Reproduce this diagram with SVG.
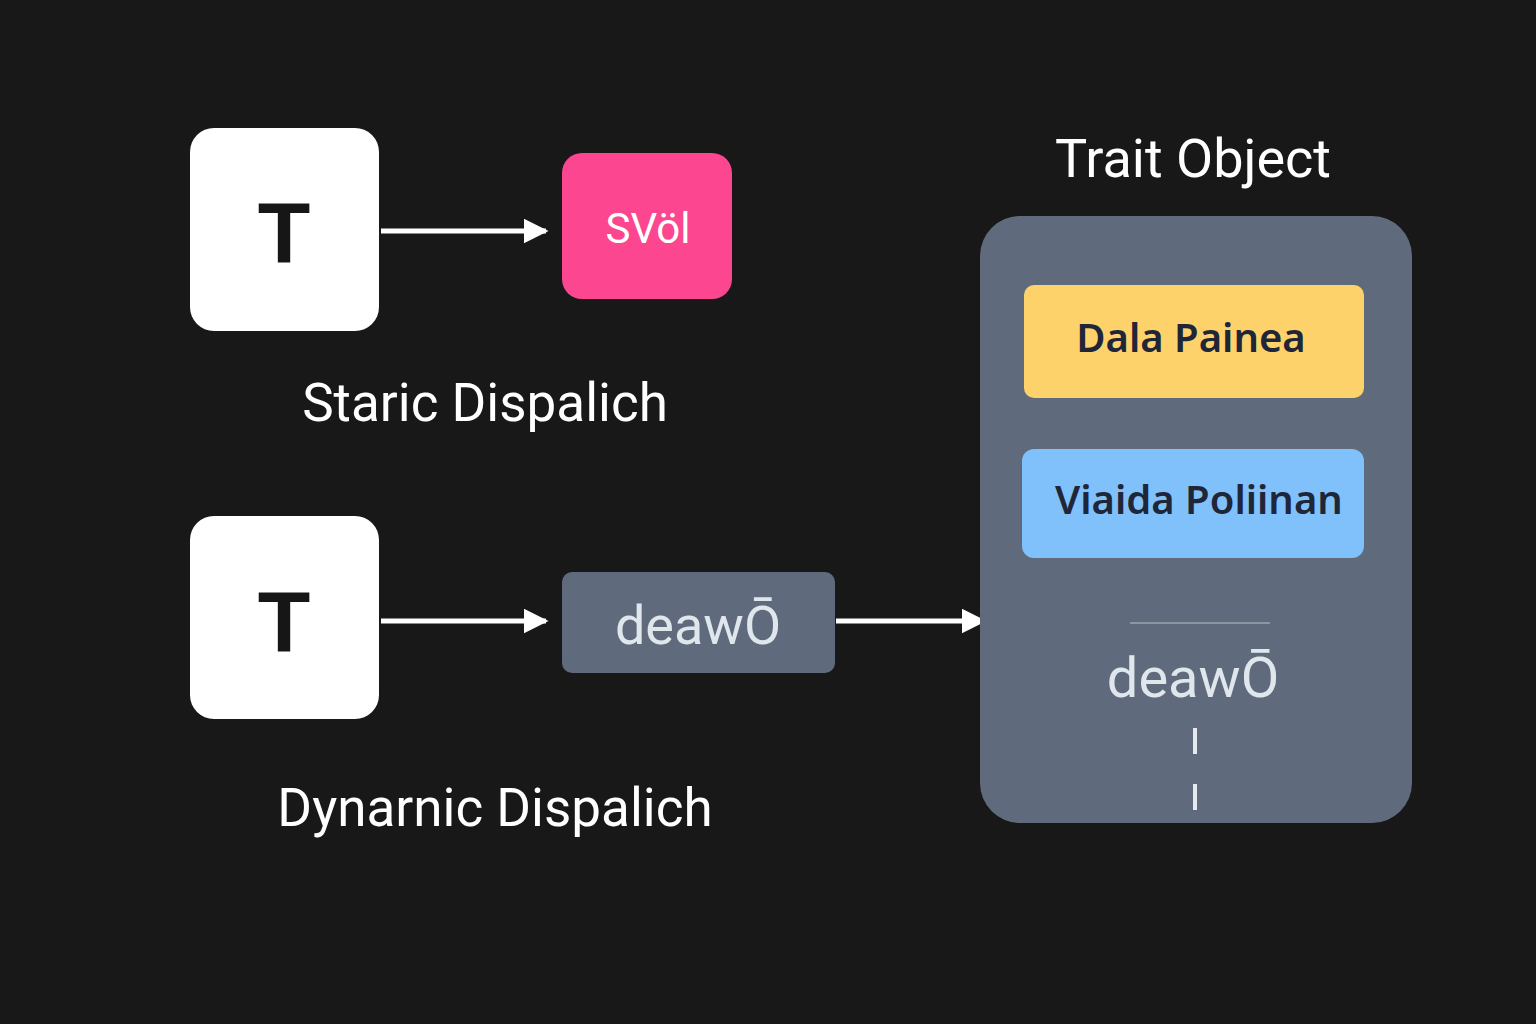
<svg xmlns="http://www.w3.org/2000/svg" width="1536" height="1024" viewBox="0 0 1536 1024">
<style>
.tbox{fill:#ffffff}
.tl{font-family:"Liberation Sans",Arial,sans-serif;font-weight:bold;font-size:86px;fill:#161616;text-anchor:middle}
.lbl{font-family:Roboto,"Noto Sans",sans-serif;fill:#ffffff;text-anchor:middle}
.conn{stroke:#ffffff;stroke-width:5;fill:none}
.gray{fill:#5f6b7c}
.ptext{font-family:Roboto,"Noto Sans",sans-serif;fill:#dfe6ec;text-anchor:middle}
.dark{font-family:"Noto Sans",Roboto,sans-serif;font-size:40px;font-weight:600;fill:#1f2638}
</style>
<defs>
<marker id="ah" viewBox="0 0 10 10" refX="9" refY="5" markerWidth="5" markerHeight="5" orient="auto" markerUnits="strokeWidth">
<path d="M0,0 L10,5 L0,10 z" fill="#ffffff"/>
</marker>
</defs>
<rect width="1536" height="1024" fill="#181818"/>
<g id="connectors">
<line class="conn" x1="381" y1="231" x2="546" y2="231" marker-end="url(#ah)"/>
<line class="conn" x1="381" y1="621" x2="546" y2="621" marker-end="url(#ah)"/>
<line class="conn" x1="836" y1="621" x2="984" y2="621" marker-end="url(#ah)"/>
</g>
<g id="t-static">
<rect class="tbox" x="190" y="128" width="189" height="203" rx="24"/>
<text class="tl" x="284" y="262">T</text>
</g>
<g id="static-target">
<rect x="562" y="153" width="170" height="146" rx="20" fill="#fc4790"/>
<text x="648" y="243" font-family="Roboto,'Noto Sans',sans-serif" font-size="42" fill="#ffffff" text-anchor="middle">SVöl</text>
</g>
<g id="static-label"><text class="lbl" x="485" y="421" font-size="53">Staric Dispalich</text></g>
<g id="t-dynamic">
<rect class="tbox" x="190" y="516" width="189" height="203" rx="24"/>
<text class="tl" x="284" y="651">T</text>
</g>
<g id="dyn-target">
<rect class="gray" x="562" y="572" width="273" height="101" rx="10"/>
<text class="ptext" x="698" y="644" font-size="54">deawŌ</text>
</g>
<g id="dynamic-label"><text class="lbl" x="495" y="826" font-size="53">Dynarnic Dispalich</text></g>
<g id="trait-object">
<text class="lbl" x="1193" y="177" font-size="54">Trait Object</text>
<rect class="gray" x="980" y="216" width="432" height="607" rx="40"/>
<g id="data-pointer">
<rect x="1024" y="285" width="340" height="113" rx="10" fill="#fed26a"/>
<text class="dark" x="1191" y="352" text-anchor="middle">Dala Painea</text>
</g>
<g id="vtable-pointer">
<rect x="1022" y="449" width="342" height="109" rx="12" fill="#80c1fc"/>
<text class="dark" x="1055" y="514">Viaida Poliinan</text>
</g>
<line x1="1130" y1="623" x2="1270" y2="623" stroke="#aab3be" stroke-width="2" opacity="0.6"/>
<text class="ptext" x="1193" y="697" font-size="56">deawŌ</text>
<line x1="1195" y1="728" x2="1195" y2="823" stroke="#e6eaee" stroke-width="4" stroke-dasharray="26,30"/>
</g>
</svg>
